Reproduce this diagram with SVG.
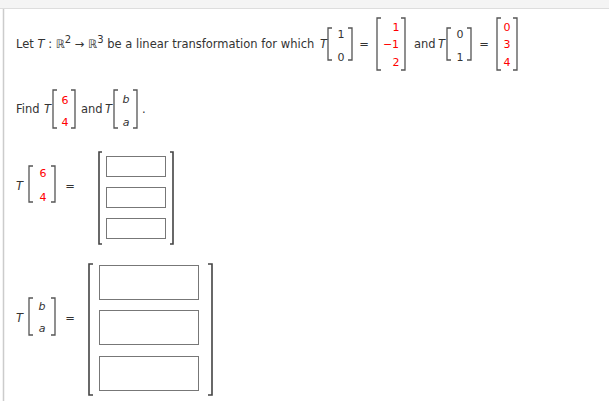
<svg xmlns="http://www.w3.org/2000/svg" width="609" height="401" viewBox="0 0 609 401">
<style>
text{font-family:"DejaVu Sans","Verdana",sans-serif;font-size:11.5px;fill:#333}
.s{font-size:11px}
.r{fill:#ff0000}
.i{font-style:italic}
.m{text-anchor:middle}
.b{fill:none;stroke:#555;stroke-width:1.3}
.B{fill:none;stroke:#444;stroke-width:1.6}
.box{fill:#fff;stroke:#777;stroke-width:1}
</style>
<rect x="0" y="0" width="609" height="8" fill="#f4f4f4"/>
<line x1="0" y1="8.5" x2="609" y2="8.5" stroke="#ddd"/>
<line x1="3.5" y1="9" x2="3.5" y2="401" stroke="#ccc" stroke-width="1.5"/>
<g id="statement">
<text x="16" y="48">Let <tspan class="i">T</tspan> : ℝ<tspan dy="-5" font-size="10">2</tspan><tspan dy="5"> → ℝ</tspan><tspan dy="-5" font-size="10">3</tspan><tspan dy="5"> be a linear transformation for which</tspan></text>
<text x="320" y="48" class="i">T</text>
<path class="b" d="M332,28h-4v32h4M348,28h4v32h-4"/>
<text x="341" y="38" class="s m">1</text><text x="341" y="61" class="s m">0</text>
<text x="364" y="48" class="m">=</text>
<path class="b" d="M381,18h-4v52h4M401,18h4v52h-4"/>
<text x="396" y="31" class="s m r">1</text><text x="391" y="48" class="s m r">−1</text><text x="396" y="66" class="s m r">2</text>
<text x="414" y="48">and</text><text x="438" y="48" class="i">T</text>
<path class="b" d="M451,28h-4v32h4M467,28h4v32h-4"/>
<text x="460" y="38" class="s m">0</text><text x="460" y="61" class="s m">1</text>
<text x="484" y="48" class="m">=</text>
<path class="b" d="M501,18h-4v52h4M513,18h4v52h-4"/>
<text x="507" y="31" class="s m r">0</text><text x="507" y="48" class="s m r">3</text><text x="507" y="66" class="s m r">4</text>
<text x="16" y="113">Find</text><text x="44" y="113" class="i">T</text>
<path class="b" d="M57,90h-4v38h4M71,90h4v38h-4"/>
<text x="65" y="104" class="s m r">6</text><text x="65" y="126" class="s m r">4</text>
<text x="81" y="113">and</text><text x="105" y="113" class="i">T</text>
<path class="b" d="M118,90h-4v38h4M133,90h4v38h-4"/>
<text x="126" y="103" class="s m i">b</text><text x="126" y="126" class="s m i">a</text>
<text x="142" y="113">.</text>
</g>
<g id="answer1">
<text x="16" y="190" class="i">T</text>
<path class="b" d="M33,166h-4v36h4M51,166h4v36h-4"/>
<text x="43" y="177" class="s m r">6</text><text x="43" y="201" class="s m r">4</text>
<text x="70" y="190" class="m">=</text>
<path class="B" d="M102,152h-3v92h3M170,152h3v92h-3"/>
<rect class="box" x="106.5" y="156.5" width="59" height="20"/>
<rect class="box" x="106.5" y="187.5" width="59" height="20"/>
<rect class="box" x="106.5" y="218.5" width="59" height="20"/>
</g>
<g id="answer2">
<text x="16" y="322" class="i">T</text>
<path class="b" d="M33,298h-4v37h4M51,298h4v37h-4"/>
<text x="42" y="310" class="s m i">b</text><text x="42" y="332" class="s m i">a</text>
<text x="70" y="322" class="m">=</text>
<path class="B" d="M93,264h-4v131h4M208,264h4v131h-4"/>
<rect class="box" x="99.5" y="265.5" width="99" height="34"/>
<rect class="box" x="99.5" y="310.5" width="99" height="34"/>
<rect class="box" x="99.5" y="356.5" width="99" height="34"/>
</g>
</svg>
